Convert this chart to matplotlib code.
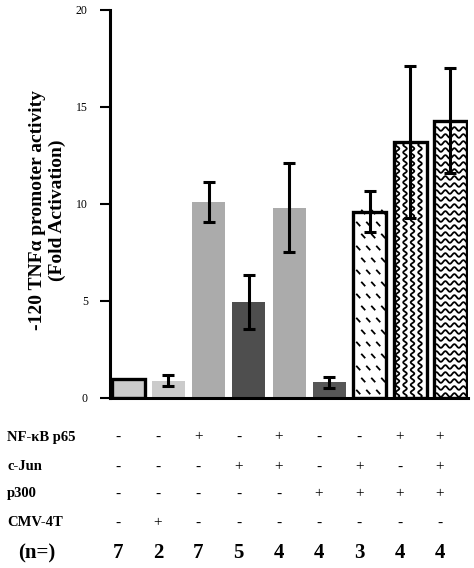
import numpy as np
import matplotlib
matplotlib.use("Agg")
import matplotlib.pyplot as plt
from matplotlib.transforms import blended_transform_factory
from matplotlib.collections import LineCollection

# ---- data ----
means = [1.0, 0.9, 10.1, 4.95, 9.8, 0.8, 9.6, 13.2, 14.3]
errors = [0.0, 0.3, 1.05, 1.4, 2.3, 0.3, 1.05, 3.9, 2.7]
row_labels = ["NF-\u03baB p65", "c-Jun", "p300", "CMV-4T"]
nfkb = ["-", "-", "+", "-", "+", "-", "-", "+", "+"]
cjun = ["-", "-", "-", "+", "+", "-", "+", "-", "+"]
p300 = ["-", "-", "-", "-", "-", "+", "+", "+", "+"]
cmv = ["-", "+", "-", "-", "-", "-", "-", "-", "-"]
n_values = ["7", "2", "7", "5", "4", "4", "3", "4", "4"]
yticks = [0, 5, 10, 15, 20]

fills = ["#cbcbcb", "#cbcbcb", "#ababab", "#4e4e4e", "#ababab", "#575757", "white", "white", "white"]
edges = ["black", "none", "none", "none", "none", "none", "black", "black", "black"]
patterns = [None, None, None, None, None, None, "dash", "vwave", "hwave"]

plt.rcParams["font.family"] = ["Liberation Serif", "DejaVu Serif"]

W, H = 474, 568
fig = plt.figure(figsize=(W / 100, H / 100), dpi=100)
ax_left, ax_right, ax_bot, ax_top = 110, 468, 398, 10
ax = fig.add_axes([ax_left / W, 1 - ax_bot / H, (ax_right - ax_left) / W, (ax_bot - ax_top) / H])

x = np.arange(len(means))
xlim = (-0.45, 8.44)
ax.set_xlim(*xlim)
ax.set_ylim(0, 20)
pxx = (ax_right - ax_left) / (xlim[1] - xlim[0])  # px per x unit
pxy = (ax_bot - ax_top) / 20.0                      # px per y unit

width = 0.82
bars = ax.bar(x, means, width=width, color=fills, edgecolor="none", linewidth=0, zorder=2)

# patterns
for b, pat in zip(bars, patterns):
    if pat is None:
        continue
    x0, w, h = b.get_x(), b.get_width(), b.get_height()
    segs = []
    if pat == "dash":
        sx, sy = 10 / pxx, 12 / pxy
        row = 0
        yy = sy * 0.5
        while yy < h:
            off = (sx / 2) if row % 2 else 0
            xx = x0 + 5 / pxx + off
            while xx < x0 + w:
                segs.append([(xx - 2 / pxx, yy + 2.2 / pxy), (xx + 2 / pxx, yy - 2.2 / pxy)])
                xx += sx
            yy += sy
            row += 1
    elif pat == "vwave":
        yy = np.linspace(0, h, 800)
        for cx in np.arange(x0 + 4 / pxx, x0 + w, 7.5 / pxx):
            xs = cx + (1.8 / pxx) * np.sin(2 * np.pi * yy * pxy / 7.5)
            segs.append(np.column_stack([xs, yy]))
    else:
        xx = np.linspace(x0, x0 + w, 400)
        for cy in np.arange(3 / pxy, h - 2 / pxy, 7 / pxy):
            ys = cy + (1.8 / pxy) * np.sin(2 * np.pi * xx * pxx / 9)
            segs.append(np.column_stack([xx, ys]))
    lc = LineCollection(segs, colors="black", linewidths=1.3, zorder=3)
    lc.set_clip_path(b)
    ax.add_collection(lc)

# edges on top
for b, e in zip(bars, edges):
    if e != "none":
        r = plt.Rectangle((b.get_x(), 0), b.get_width(), b.get_height(), fill=False,
                          edgecolor="black", linewidth=2.4, zorder=4)
        ax.add_patch(r)

# error bars
for xi, m, e in zip(x, means, errors):
    if e > 0:
        ax.errorbar(xi, m, yerr=e, fmt="none", ecolor="black", elinewidth=2.2,
                    capsize=4, capthick=2.2, zorder=5)

for s in ["top", "right"]:
    ax.spines[s].set_visible(False)
ax.spines["left"].set_linewidth(2.2)
ax.spines["bottom"].set_linewidth(2.2)
ax.set_xticks([])
ax.set_yticks(yticks)
ax.set_yticklabels([str(t) for t in yticks], fontsize=8.5)
ax.tick_params(axis="y", direction="out", length=7, width=1.5, pad=9)

fig.text(38 / W, 1 - 210 / H, "-120 TNF\u03b1 promoter activity", rotation=90,
         ha="center", va="center", fontsize=14, fontweight="bold")
fig.text(57 / W, 1 - 210 / H, "(Fold Activation)", rotation=90,
         ha="center", va="center", fontsize=14, fontweight="bold")

# table below
trans = blended_transform_factory(ax.transData, fig.transFigure)
row_y = [437, 467, 494, 523]
for lab, vals, yy in zip(row_labels, [nfkb, cjun, p300, cmv], row_y):
    fig.text(7 / W, 1 - yy / H, lab, ha="left", va="center", fontsize=10.5, fontweight="bold")
    for xi, v in zip(x, vals):
        ax.text(xi - 0.26, 1 - yy / H, v, transform=trans, ha="center", va="center",
                fontsize=11, clip_on=False)
fig.text(18 / W, 1 - 553 / H, "(n=)", ha="left", va="center", fontsize=15, fontweight="bold")
for xi, n in zip(x, n_values):
    ax.text(xi - 0.26, 1 - 553 / H, n, transform=trans, ha="center", va="center",
            fontsize=15, fontweight="bold", clip_on=False)

fig.savefig("out.png", dpi=100, facecolor="white")
